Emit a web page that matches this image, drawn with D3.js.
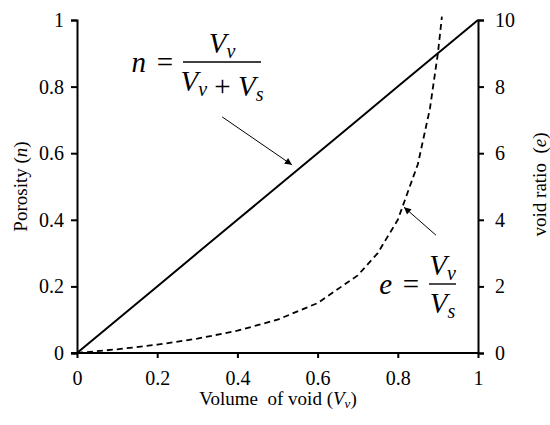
<!DOCTYPE html>
<html>
<head>
<meta charset="utf-8">
<script src="https://cdn.jsdelivr.net/npm/d3@7/dist/d3.min.js"></script>
<style>
  html, body { margin: 0; padding: 0; background: #fff; }
  svg { display: block; }
  .tick text { font-family: "Liberation Serif", "Times New Roman", serif; font-size: 20px; fill: #000; }
  .lbl { font-family: "Liberation Serif", "Times New Roman", serif; font-size: 19px; fill: #000; white-space: pre; }
  .math { font-family: "Liberation Serif", "Times New Roman", serif; font-size: 29px; fill: #000; white-space: pre; }
</style>
</head>
<body>
<svg id="chart" width="550" height="425"></svg>
<script>
// ---- data ----
const xTicks = [0, 0.2, 0.4, 0.6, 0.8, 1];
const xTickLabels = ["0", "0.2", "0.4", "0.6", "0.8", "1"];
const leftTicks = [0, 0.2, 0.4, 0.6, 0.8, 1];
const leftTickLabels = ["0", "0.2", "0.4", "0.6", "0.8", "1"];
const rightTicks = [0, 2, 4, 6, 8, 10];
const rightTickLabels = ["0", "2", "4", "6", "8", "10"];

// porosity n vs volume of void (solid, left axis)
const porosityX = [0, 0.1, 0.2, 0.3, 0.4, 0.5, 0.6, 0.7, 0.8, 0.9, 1.0];
const porosityY = [0, 0.1, 0.2, 0.3, 0.4, 0.5, 0.6, 0.7, 0.8, 0.9, 1.0];

// void ratio e vs volume of void (dashed, right axis)
const voidX = [0, 0.1, 0.2, 0.3, 0.4, 0.5, 0.6, 0.7, 0.75, 0.8, 0.85, 0.88, 0.9, 0.91];
const voidE = [0, 0.11, 0.25, 0.43, 0.67, 1.0, 1.5, 2.33, 3.0, 4.0, 5.67, 7.33, 9.0, 10.1];

const xTitle = "Volume  of void (";
const leftTitle = "Porosity (";
const rightTitle = "void ratio  (";

// ---- layout ----
const svg = d3.select("#chart");
const x = d3.scaleLinear().domain([0, 1]).range([77, 478]);
const yL = d3.scaleLinear().domain([0, 1]).range([353, 20]);
const yR = d3.scaleLinear().domain([0, 10]).range([353, 20]);

// axes
const gx = svg.append("g").attr("transform", `translate(0,${yL(0)})`)
  .call(d3.axisBottom(x).tickValues(xTicks).tickFormat((d, i) => xTickLabels[i]).tickSizeOuter(0).tickSize(5).tickPadding(13));
const gl = svg.append("g").attr("transform", `translate(${x(0)},0)`)
  .call(d3.axisLeft(yL).tickValues(leftTicks).tickFormat((d, i) => leftTickLabels[i]).tickSizeOuter(0).tickSize(6).tickPadding(7));
const gr = svg.append("g").attr("transform", `translate(${x(1)},0)`)
  .call(d3.axisRight(yR).tickValues(rightTicks).tickFormat((d, i) => rightTickLabels[i]).tickSizeOuter(0).tickSize(6).tickPadding(11));

[gx, gl, gr].forEach(g => {
  g.select(".domain").attr("stroke", "#000").attr("stroke-width", 2);
  g.selectAll(".tick line").attr("stroke", "#000").attr("stroke-width", 2);
});
gx.select(".domain").attr("d", `M${x(0) - 6},0H${x(1)}`);

// lines
const lineL = d3.line().x(d => x(d[0])).y(d => yL(d[1]));
const lineR = d3.line().x(d => x(d[0])).y(d => yR(d[1]));

svg.append("path")
  .datum(porosityX.map((v, i) => [v, porosityY[i]]))
  .attr("d", lineL).attr("fill", "none").attr("stroke", "#000").attr("stroke-width", 2);

svg.append("path")
  .datum(voidX.map((v, i) => [v, voidE[i]]))
  .attr("d", lineR).attr("fill", "none").attr("stroke", "#000").attr("stroke-width", 1.8)
  .attr("stroke-dasharray", "6,4");

// axis titles
const xt = svg.append("text").attr("class", "lbl").attr("x", 278).attr("y", 405).attr("text-anchor", "middle");
xt.append("tspan").text(xTitle);
xt.append("tspan").attr("font-style", "italic").text("V");
xt.append("tspan").attr("font-style", "italic").attr("font-size", "13px").attr("dy", 3).text("v");
xt.append("tspan").attr("dy", -3).text(")");

const lt = svg.append("text").attr("class", "lbl").attr("transform", `translate(27,${(yL(0) + yL(1)) / 2}) rotate(-90)`).attr("text-anchor", "middle");
lt.append("tspan").text(leftTitle);
lt.append("tspan").attr("font-style", "italic").text("n");
lt.append("tspan").text(")");

const rt = svg.append("text").attr("class", "lbl").attr("transform", `translate(546,${(yR(0) + yR(10)) / 2 - 2}) rotate(-90)`).attr("text-anchor", "middle");
rt.append("tspan").text(rightTitle);
rt.append("tspan").attr("font-style", "italic").text("e");
rt.append("tspan").text(")");

// arrows
const defs = svg.append("defs");
defs.append("marker").attr("id", "arr").attr("viewBox", "0 0 10 10").attr("refX", 10).attr("refY", 5)
  .attr("markerWidth", 9).attr("markerHeight", 7).attr("markerUnits", "userSpaceOnUse").attr("orient", "auto")
  .append("path").attr("d", "M0,0L10,5L0,10Z").attr("fill", "#000");

svg.append("line").attr("x1", x(0.362)).attr("y1", yL(0.709)).attr("x2", x(0.536)).attr("y2", yL(0.565))
  .attr("stroke", "#000").attr("stroke-width", 1).attr("marker-end", "url(#arr)");
svg.append("line").attr("x1", x(0.895)).attr("y1", yR(3.54)).attr("x2", x(0.8155)).attr("y2", yR(4.38))
  .attr("stroke", "#000").attr("stroke-width", 1).attr("marker-end", "url(#arr)");

// equations
function frac(barX1, barX2, barY, lhs, num, den) {
  const cx = (barX1 + barX2) / 2;
  svg.append("line").attr("x1", barX1).attr("x2", barX2).attr("y1", barY).attr("y2", barY)
    .attr("stroke", "#000").attr("stroke-width", 1.4);
  svg.append("text").attr("class", "math").attr("x", barX1 - 37).attr("y", barY + 10)
    .attr("text-anchor", "end").attr("font-style", "italic").text(lhs);
  svg.append("text").attr("class", "math").attr("x", barX1 - 18).attr("y", barY + 10)
    .attr("text-anchor", "middle").text("=");
  const build = (parts, y) => {
    const tx = svg.append("text").attr("class", "math").attr("x", cx).attr("y", y).attr("text-anchor", "middle");
    parts.forEach(p => {
      if (p.sub) {
        tx.append("tspan").attr("font-style", "italic").attr("font-size", "20px").attr("dy", 5).text(p.sub);
        tx.append("tspan").attr("dy", -5).text("");
      } else if (p.op) {
        tx.append("tspan").text(p.op);
      } else {
        tx.append("tspan").attr("font-style", "italic").text(p.t);
      }
    });
  };
  build(num, barY - 9);
  build(den, barY + 29);
}
frac(183, 261, 62, "n", [{t: "V"}, {sub: "v"}], [{t: "V"}, {sub: "v"}, {op: " + "}, {t: "V"}, {sub: "s"}]);
frac(429, 456, 284, "e", [{t: "V"}, {sub: "v"}], [{t: "V"}, {sub: "s"}]);
</script>
</body>
</html>
